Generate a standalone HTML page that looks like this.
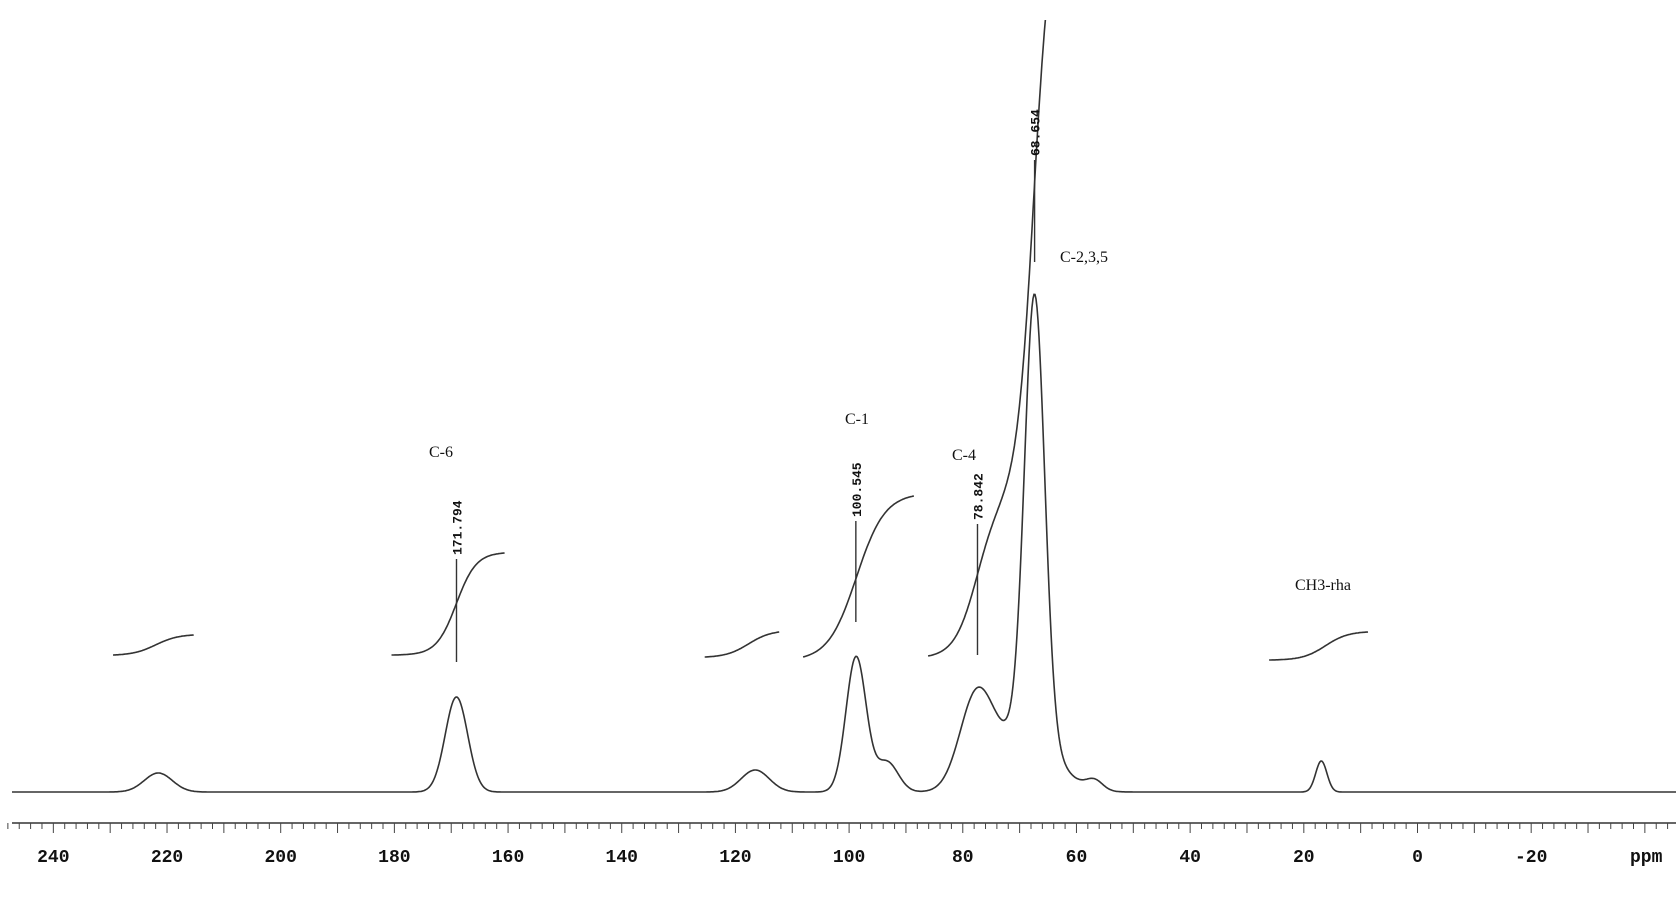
<!DOCTYPE html>
<html><head><meta charset="utf-8"><style>
html,body{margin:0;padding:0;background:#fff;}
svg{display:block;}
</style></head><body>
<svg id="chart" width="1676" height="900" viewBox="0 0 1676 900" xmlns="http://www.w3.org/2000/svg">
<defs><clipPath id="clipTop"><rect x="0" y="20" width="1676" height="880"/></clipPath></defs>
<g id="spec"></g>
<g id="ints"></g>
<g id="marks"></g>
<g id="axis"></g>
<g font-family="Liberation Serif, serif" font-size="16" fill="#111">
<text x="441" y="457" text-anchor="middle">C-6</text>
<text x="857" y="424" text-anchor="middle">C-1</text>
<text x="964" y="460" text-anchor="middle">C-4</text>
<text x="1060" y="262">C-2,3,5</text>
<text x="1323" y="590" text-anchor="middle">CH3-rha</text>
</g>
</svg>
<script>
// peak data
const peakPpm = [225, 171.8, 118.5, 100.5, 95, 79, 68.65, 70, 58, 17.5];
const peakHeight = [19, 95, 22, 135, 30, 92, 440, 60, 10, 31];
const peakSigma = [2.5, 2.0, 2.5, 1.8, 2.0, 3.0, 1.8, 5.0, 1.5, 1.0];
// integral data
const intStart = [229.5, 180.5, 125.4, 108.1, 86.1, 26.1];
const intEnd = [215.3, 160.6, 112.3, 88.6, 64.1, 8.7];
const intBaseY = [655, 655, 657, 657, 656, 660];
const intRise = [20, 102, 25, 161, 160, 28];
const intCenter = [222, 169.1, 117.7, 98.7, 77.5, 16.2];
const intWidth = [4, 3.5, 4, 5, 4, 4];
const intRise2 = [0, 0, 0, 0, 600, 0];
// markers
const markPpm = [171.794, 100.545, 78.842, 68.654];
const markLabels = ["171.794", "100.545", "78.842", "68.654"];
const markTop = [559, 521, 524, 160];
const markBottom = [662, 622, 655, 262];
// axis
const tickLabels = [240, 220, 200, 180, 160, 140, 120, 100, 80, 60, 40, 20, 0, -20];

const NS = "http://www.w3.org/2000/svg";
const xS = p => 1417.5 - 5.684 * p;      // axis scale
const xP = p => 1419.4 - 5.605 * p;      // spectrum scale (as printed)
const baseY = 792;
const yS = v => baseY - v;
function mk(tag, attrs, parent) { const e = document.createElementNS(NS, tag); for (const k in attrs) e.setAttribute(k, attrs[k]); parent.appendChild(e); return e; }

// spectrum
function intensity(p) { let s = 0; for (let i = 0; i < peakPpm.length; i++) { const d = (p - peakPpm[i]) / peakSigma[i]; s += peakHeight[i] * Math.exp(-0.5 * d * d); } return s; }
let d = "";
for (let px = 12; px <= 1676; px += 1) { const p = (1419.4 - px) / 5.605; d += (px === 12 ? "M" : "L") + px + "," + yS(intensity(p)).toFixed(1); }
const sp = mk("path", { d: d, fill: "none", stroke: "#333", "stroke-width": 1.6 }, document.getElementById("spec"));



// integrals
const ig = document.getElementById("ints");
for (let i = 0; i < intStart.length; i++) {
  let pd = "";
  const n = 100;
  const sig = p => 0.5 * (1 + Math.tanh((intCenter[i] - p) / intWidth[i]));
  const s0 = sig(intStart[i]), s1 = sig(intEnd[i]);
  for (let k = 0; k <= n; k++) {
    const p = intStart[i] + (intEnd[i] - intStart[i]) * k / n;
    let v = intRise[i] * (sig(p) - s0) / (s1 - s0);
    if (intRise2[i]) v += intRise2[i] * 0.5 * (1 + Math.tanh((67.5 - p) / 3));
    pd += (k ? "L" : "M") + xS(p).toFixed(1) + "," + (intBaseY[i] - v).toFixed(1);
  }
  const e = mk("path", { d: pd, fill: "none", stroke: "#333", "stroke-width": 1.6, "clip-path": "url(#clipTop)" }, ig);
  
  
}

// markers
const mg = document.getElementById("marks");
for (let i = 0; i < markPpm.length; i++) {
  const x = xP(markPpm[i]);
  const l = mk("line", { x1: x, x2: x, y1: markTop[i], y2: markBottom[i], stroke: "#333", "stroke-width": 1.4 }, mg);
  
  
  const t = mk("text", { transform: "translate(" + (x + 5) + "," + (markTop[i] - 4) + ") rotate(-90)", "font-family": "Liberation Mono, monospace", "font-weight": "bold", "font-size": 13, fill: "#111" }, mg);
  t.textContent = markLabels[i];
  
  
}

// axis
const ag = document.getElementById("axis");
const al = mk("line", { x1: 12, x2: 1676, y1: 823, y2: 823, stroke: "#333", "stroke-width": 1.6 }, ag);


for (let p = 250; p >= -45; p -= 2) {
  const x = xS(p);
  const major = p % 10 === 0;
  const t = mk("line", { x1: x, x2: x, y1: 823, y2: 823 + (major ? 10 : 6), stroke: "#444", "stroke-width": 1 }, ag);
  
  
}
for (let i = 0; i < tickLabels.length; i++) {
  const t = mk("text", { x: xS(tickLabels[i]), y: 862, "text-anchor": "middle", "font-family": "Liberation Mono, monospace", "font-weight": "bold", "font-size": 18, fill: "#111" }, ag);
  t.textContent = tickLabels[i];
  
  
}
const u = mk("text", { x: 1630, y: 862, "font-family": "Liberation Mono, monospace", "font-weight": "bold", "font-size": 18, fill: "#111" }, ag);
u.textContent = "ppm";


</script>
</body></html>
